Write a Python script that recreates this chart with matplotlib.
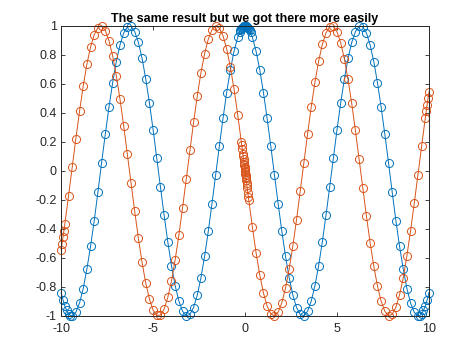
import matplotlib.pyplot as plt

plt.rcParams['font.family'] = ['Liberation Sans', 'DejaVu Sans']

# sample points (blue curve)
blue_x = [-10, -9.9, -9.8, -9.7, -9.6, -9.5, -9.4, -9.2, -9.0, -8.8, -8.6, -8.4, -8.2,
          -8.0, -7.8, -7.6, -7.4, -7.2, -7.0, -6.8, -6.6, -6.4, -6.2, -6.0, -5.8, -5.6,
          -5.4, -5.2, -5.0, -4.8, -4.6, -4.4, -4.2, -4.0, -3.8, -3.6, -3.4, -3.2, -3.0,
          -2.8, -2.6, -2.4, -2.2, -2.0, -1.8, -1.6, -1.4, -1.2, -1.0, -0.8, -0.6, -0.4,
          -0.3, -0.25, -0.2, -0.175, -0.15, -0.125, -0.1, -0.075, -0.05, -0.025, 0,
          0.025, 0.05, 0.075, 0.1, 0.125, 0.15, 0.175, 0.2, 0.25, 0.3,
          0.4, 0.6, 0.8, 1.0, 1.2, 1.4, 1.6, 1.8, 2.0, 2.2, 2.4, 2.6, 2.8, 3.0, 3.2,
          3.4, 3.6, 3.8, 4.0, 4.2, 4.4, 4.6, 4.8, 5.0, 5.2, 5.4, 5.6, 5.8, 6.0, 6.2,
          6.4, 6.6, 6.8, 7.0, 7.2, 7.4, 7.6, 7.8, 8.0, 8.2, 8.4, 8.6, 8.8, 9.0, 9.2,
          9.4, 9.5, 9.6, 9.7, 9.8, 9.9, 10]
blue_y = [-0.839, -0.889, -0.932, -0.962, -0.985, -0.997, -0.999, -0.975, -0.911, -0.811,
          -0.676, -0.519, -0.342, -0.146, 0.057, 0.253, 0.439, 0.608, 0.754, 0.869,
          0.951, 0.993, 0.997, 0.960, 0.886, 0.776, 0.635, 0.469, 0.284, 0.087, -0.112,
          -0.307, -0.490, -0.654, -0.791, -0.897, -0.967, -0.998, -0.990, -0.942, -0.857,
          -0.737, -0.589, -0.416, -0.227, -0.029, 0.170, 0.362, 0.540, 0.697, 0.825,
          0.921, 0.955, 0.969, 0.980, 0.985, 0.989, 0.992, 0.995, 0.997, 0.999, 1.0, 1.0,
          1.0, 0.999, 0.997, 0.995, 0.992, 0.989, 0.985, 0.980, 0.969, 0.955,
          0.921, 0.825, 0.697, 0.540, 0.362, 0.170, -0.029, -0.227,
          -0.416, -0.589, -0.737, -0.857, -0.942, -0.990, -0.998, -0.967, -0.897, -0.791,
          -0.654, -0.490, -0.307, -0.112, 0.087, 0.284, 0.469, 0.635, 0.776, 0.886,
          0.960, 0.997, 0.993, 0.951, 0.869, 0.754, 0.608, 0.439, 0.253, 0.057, -0.146,
          -0.342, -0.519, -0.676, -0.811, -0.911, -0.975, -0.999, -0.997, -0.985, -0.962,
          -0.932, -0.889, -0.839]

# orange curve
orange_x = [-10, -9.95, -9.9, -9.85, -9.8, -9.6, -9.4, -9.2, -9.0, -8.8, -8.6, -8.4,
            -8.2, -8.0, -7.8, -7.6, -7.4, -7.2, -7.0, -6.8, -6.6, -6.4, -6.2, -6.0,
            -5.8, -5.6, -5.4, -5.2, -5.0, -4.8, -4.6, -4.4, -4.2, -4.0, -3.8, -3.6,
            -3.4, -3.2, -3.0, -2.8, -2.6, -2.4, -2.2, -2.0, -1.8, -1.6, -1.4, -1.2,
            -1.0, -0.8, -0.6, -0.4, -0.2, -0.18, -0.15, -0.12, -0.1, -0.08, -0.06,
            -0.05, -0.04, -0.03, -0.02, -0.01, 0, 0.01, 0.02, 0.03, 0.04, 0.05, 0.06,
            0.08, 0.1, 0.12, 0.15, 0.18, 0.2, 0.4, 0.6, 0.8, 1.0, 1.2, 1.4, 1.6, 1.8,
            2.0, 2.2, 2.4, 2.6, 2.8, 3.0, 3.2, 3.4, 3.6, 3.8, 4.0, 4.2, 4.4, 4.6, 4.8,
            5.0, 5.2, 5.4, 5.6, 5.8, 6.0, 6.2, 6.4, 6.6, 6.8, 7.0, 7.2, 7.4, 7.6, 7.8,
            8.0, 8.2, 8.4, 8.6, 8.8, 9.0, 9.2, 9.4, 9.6, 9.8, 9.85, 9.9, 9.95, 10]
orange_y = [-0.544, -0.501, -0.457, -0.412, -0.366, -0.174, 0.025, 0.223, 0.412, 0.585,
            0.737, 0.855, 0.940, 0.989, 0.998, 0.968, 0.899, 0.794, 0.657, 0.494, 0.312,
            0.117, -0.083, -0.279, -0.465, -0.631, -0.773, -0.883, -0.959, -0.996,
            -0.994, -0.952, -0.872, -0.757, -0.612, -0.443, -0.256, -0.058, 0.141,
            0.335, 0.516, 0.675, 0.808, 0.909, 0.974, 1.0, 0.985, 0.932, 0.841, 0.717,
            0.565, 0.389, 0.199, 0.179, 0.149, 0.120, 0.100, 0.080, 0.060, 0.050,
            0.040, 0.030, 0.020, 0.010, 0, -0.010, -0.020, -0.030, -0.040, -0.050,
            -0.060, -0.080, -0.100, -0.120, -0.149, -0.179, -0.199, -0.389, -0.565,
            -0.717, -0.841, -0.932, -0.985, -1.0, -0.974, -0.909, -0.808, -0.675,
            -0.516, -0.335, -0.141, 0.058, 0.256, 0.443, 0.612, 0.757, 0.872, 0.952,
            0.994, 0.996, 0.959, 0.883, 0.773, 0.631, 0.465, 0.279, 0.083, -0.117,
            -0.312, -0.494, -0.657, -0.794, -0.899, -0.968, -0.998, -0.989, -0.940,
            -0.855, -0.737, -0.585, -0.412, -0.223, -0.025, 0.174, 0.366, 0.412, 0.457,
            0.501, 0.544]

x_ticks = [-10, -5, 0, 5, 10]
y_ticks = [-1, -0.8, -0.6, -0.4, -0.2, 0, 0.2, 0.4, 0.6, 0.8, 1]
y_labels = ['-1', '-0.8', '-0.6', '-0.4', '-0.2', '0', '0.2', '0.4', '0.6', '0.8', '1']

fig = plt.figure(figsize=(4.74, 3.55), dpi=100)
ax = fig.add_axes([0.129, 0.110, 0.776, 0.817])

# markers are not clipped at the box edge (as in the reference)
ax.plot(blue_x, blue_y, '-o', color='#0072BD', lw=0.7, ms=5.8, mfc='none', mew=0.7,
        clip_on=False)
ax.plot(orange_x, orange_y, '-o', color='#D95319', lw=0.7, ms=5.8, mfc='none', mew=0.7,
        clip_on=False)

ax.set_xlim(-10, 10)
ax.set_ylim(-1, 1)
ax.set_xticks(x_ticks)
ax.set_xticklabels([str(t) for t in x_ticks])
ax.set_yticks(y_ticks)
ax.set_yticklabels(y_labels)
ax.tick_params(direction='in', top=True, right=True, length=3, width=0.6,
               labelsize=9, colors='#262626')
ax.tick_params(axis='x', pad=5)
ax.tick_params(axis='y', pad=3)
for s in ax.spines.values():
    s.set_linewidth(0.7)
    s.set_color('#262626')

ax.set_title('The same result but we got there more easily', fontsize=9,
             fontweight='bold', color='black', pad=3)

fig.savefig('out.png', dpi=100)
